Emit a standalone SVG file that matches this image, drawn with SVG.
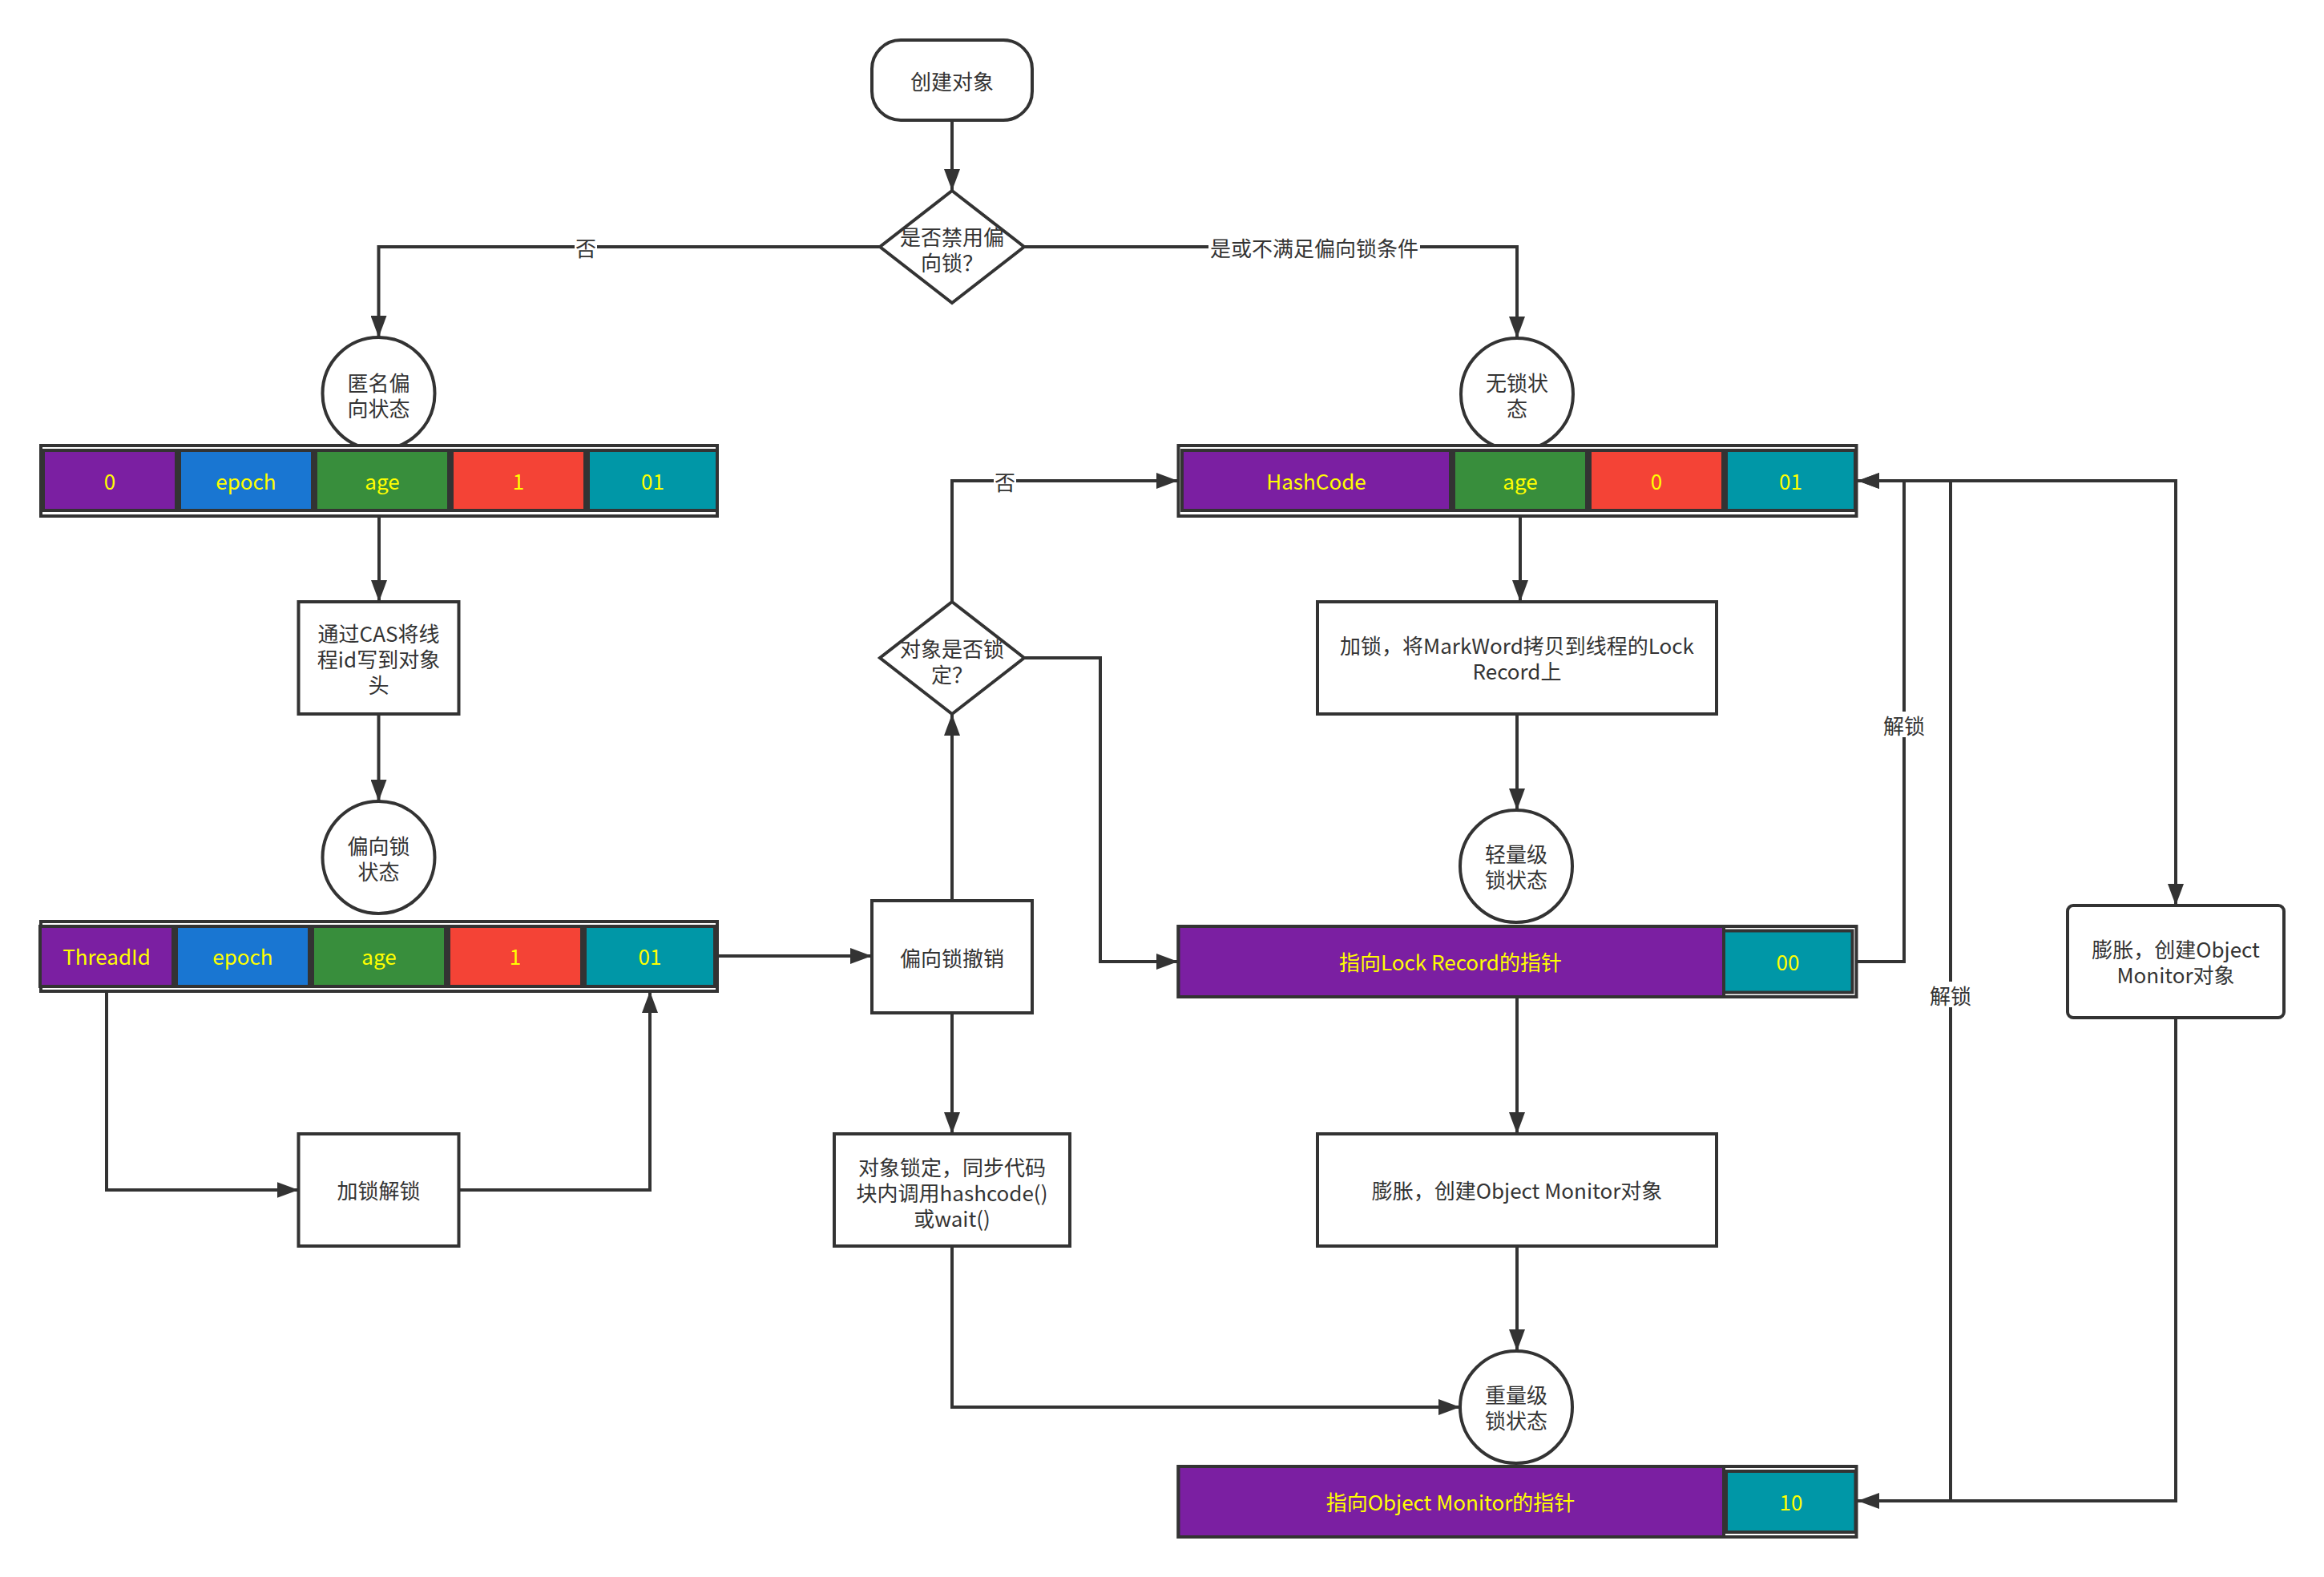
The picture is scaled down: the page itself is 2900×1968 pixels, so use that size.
<svg xmlns="http://www.w3.org/2000/svg" width="2900" height="1968" viewBox="0 0 2900 1968">
<style>
.ln{fill:none;stroke:#333;stroke-width:4;marker-end:url(#ah)}
.nd{fill:#fff;stroke:#333;stroke-width:4}
.bo{fill:#fff;stroke:#333;stroke-width:4}
.c{stroke:#333;stroke-width:4}
.t{font-family:"Noto Sans CJK SC","Microsoft YaHei",sans-serif;font-size:26px;fill:#333;text-anchor:middle;dominant-baseline:central}
.y{fill:#ffff00}
.lb{fill:#fff}
.pu{fill:#7B1FA2}.bl{fill:#1976D2}.gr{fill:#388E3C}.rd{fill:#F44336}.tl{fill:#0097A7}
</style>
<defs>
<marker id="ah" markerUnits="userSpaceOnUse" viewBox="0 0 27 20" markerWidth="27" markerHeight="20" refX="27" refY="10" orient="auto">
<path d="M0,0 L27,10 L0,20 Z" fill="#333"/>
</marker>
</defs>
<rect width="2900" height="1968" fill="#fff"/>
<g id="connectors">
<path class="ln" d="M1188,150 L1188,238"/>
<path class="ln" d="M1098,308 L472.5,308 L472.5,421"/>
<path class="ln" d="M1278,308 L1893,308 L1893,422"/>
<path class="ln" d="M473,644 L473,751"/>
<path class="ln" d="M472.5,891 L472.5,1000"/>
<path class="ln" d="M133,1237 L133,1485 L372.5,1485"/>
<path class="ln" d="M572.5,1485 L811,1485 L811,1237"/>
<path class="ln" d="M895,1193 L1088,1193"/>
<path class="ln" d="M1188,1124 L1188,891"/>
<path class="ln" d="M1188,751 L1188,600 L1470,600"/>
<path class="ln" d="M1278,821 L1373,821 L1373,1200 L1470,1200"/>
<path class="ln" d="M1188,1264 L1188,1415"/>
<path class="ln" d="M1188,1555 L1188,1756 L1822,1756"/>
<path class="ln" d="M1897,644 L1897,751"/>
<path class="ln" d="M1893,891 L1893,1011"/>
<path class="ln" d="M1893,1244 L1893,1415"/>
<path class="ln" d="M1893,1555 L1893,1686"/>
<path class="ln" d="M2317,1200 L2376,1200 L2376,600 L2318,600"/>
<path class="ln" d="M2317,1873 L2434,1873 L2434,600 L2318,600"/>
<path class="ln" d="M2318,600 L2715,600 L2715,1130"/>
<path class="ln" d="M2715,1270 L2715,1873 L2318,1873"/>
<rect class="lb" x="717" y="292" width="28" height="32"/>
<text class="t" x="731" y="308">否</text>
<rect class="lb" x="1508" y="292" width="264" height="32"/>
<text class="t" x="1640" y="308">是或不满足偏向锁条件</text>
<rect class="lb" x="1240" y="584" width="28" height="32"/>
<text class="t" x="1254" y="600">否</text>
<rect class="lb" x="2349" y="888" width="54" height="32"/>
<text class="t" x="2376" y="904">解锁</text>
<rect class="lb" x="2407" y="1225" width="54" height="32"/>
<text class="t" x="2434" y="1241">解锁</text>
</g>
<g id="n_create">
<rect class="nd" x="1088" y="50" width="200" height="100" rx="36" ry="36"/>
<text class="t" x="1188" y="100">创建对象</text>
</g>
<g id="n_dec1">
<polygon class="nd" points="1188,238 1278,308 1188,378 1098,308"/>
<text class="t" x="1188" y="294">是否禁用偏</text>
<text class="t" x="1188" y="326">向锁？</text>
</g>
<g id="n_anon">
<circle class="nd" cx="472.5" cy="491" r="70"/>
<text class="t" x="472.5" y="476">匿名偏</text>
<text class="t" x="472.5" y="508">向状态</text>
</g>
<g id="bar_anon">
<rect class="bo" x="51" y="556" width="844" height="88"/>
<rect class="c pu" x="54" y="562" width="166" height="75"/>
<rect class="c bl" x="224" y="562" width="166" height="75"/>
<rect class="c gr" x="394" y="562" width="166" height="75"/>
<rect class="c rd" x="564" y="562" width="166" height="75"/>
<rect class="c tl" x="734" y="562" width="161" height="75"/>
<text class="t y" x="137" y="599">0</text>
<text class="t y" x="307" y="599">epoch</text>
<text class="t y" x="477" y="599">age</text>
<text class="t y" x="647" y="599">1</text>
<text class="t y" x="814.5" y="599">01</text>
</g>
<g id="n_cas">
<rect class="nd" x="372.5" y="751" width="200" height="140"/>
<text class="t" x="472.5" y="789">通过CAS将线</text>
<text class="t" x="472.5" y="821">程id写到对象</text>
<text class="t" x="472.5" y="853">头</text>
</g>
<g id="n_biased">
<circle class="nd" cx="472.5" cy="1070" r="70"/>
<text class="t" x="472.5" y="1054">偏向锁</text>
<text class="t" x="472.5" y="1086">状态</text>
</g>
<g id="bar_biased">
<rect class="bo" x="51" y="1150" width="844" height="87"/>
<rect class="c pu" x="50" y="1156" width="166" height="75"/>
<rect class="c bl" x="220" y="1156" width="166" height="75"/>
<rect class="c gr" x="390" y="1156" width="166" height="75"/>
<rect class="c rd" x="560" y="1156" width="166" height="75"/>
<rect class="c tl" x="730" y="1156" width="162" height="75"/>
<text class="t y" x="133" y="1192.5">ThreadId</text>
<text class="t y" x="303" y="1192.5">epoch</text>
<text class="t y" x="473" y="1192.5">age</text>
<text class="t y" x="643" y="1192.5">1</text>
<text class="t y" x="811" y="1192.5">01</text>
</g>
<g id="n_lockunlock">
<rect class="nd" x="372.5" y="1415" width="200" height="140"/>
<text class="t" x="472.5" y="1484">加锁解锁</text>
</g>
<g id="n_revoke">
<rect class="nd" x="1088" y="1124" width="200" height="140"/>
<text class="t" x="1188" y="1194">偏向锁撤销</text>
</g>
<g id="n_dec2">
<polygon class="nd" points="1188,751 1278,821 1188,891 1098,821"/>
<text class="t" x="1188" y="808">对象是否锁</text>
<text class="t" x="1188" y="840">定？</text>
</g>
<g id="n_locked">
<rect class="nd" x="1041" y="1415" width="294" height="140"/>
<text class="t" x="1188" y="1455">对象锁定，同步代码</text>
<text class="t" x="1188" y="1487">块内调用hashcode()</text>
<text class="t" x="1188" y="1519">或wait()</text>
</g>
<g id="n_nolock">
<circle class="nd" cx="1893" cy="492" r="70"/>
<text class="t" x="1893" y="476">无锁状</text>
<text class="t" x="1893" y="508">态</text>
</g>
<g id="bar_nolock">
<rect class="bo" x="1470.5" y="556" width="846" height="88"/>
<rect class="c pu" x="1475" y="562" width="335" height="75"/>
<rect class="c gr" x="1814" y="562" width="166" height="75"/>
<rect class="c rd" x="1984" y="562" width="166" height="75"/>
<rect class="c tl" x="2154" y="562" width="161" height="75"/>
<text class="t y" x="1642.5" y="599">HashCode</text>
<text class="t y" x="1897" y="599">age</text>
<text class="t y" x="2067" y="599">0</text>
<text class="t y" x="2234.5" y="599">01</text>
</g>
<g id="n_copy">
<rect class="nd" x="1644" y="751" width="498" height="140"/>
<text class="t" x="1893" y="804">加锁，将MarkWord拷贝到线程的Lock</text>
<text class="t" x="1893" y="836">Record上</text>
</g>
<g id="n_light">
<circle class="nd" cx="1892" cy="1081" r="70"/>
<text class="t" x="1892" y="1064">轻量级</text>
<text class="t" x="1892" y="1096">锁状态</text>
</g>
<g id="bar_light">
<rect class="bo" x="1470.5" y="1156" width="846" height="88"/>
<rect class="c pu" x="1470.5" y="1156" width="680.5" height="88"/>
<rect class="c tl" x="2151" y="1161.5" width="160.5" height="77"/>
<text class="t y" x="1810" y="1199">指向Lock Record的指针</text>
<text class="t y" x="2231" y="1199">00</text>
</g>
<g id="n_inflate1">
<rect class="nd" x="1644" y="1415" width="498" height="140"/>
<text class="t" x="1893" y="1484">膨胀，创建Object Monitor对象</text>
</g>
<g id="n_heavy">
<circle class="nd" cx="1892" cy="1756" r="70"/>
<text class="t" x="1892" y="1739">重量级</text>
<text class="t" x="1892" y="1771">锁状态</text>
</g>
<g id="bar_heavy">
<rect class="bo" x="1470.5" y="1830" width="846" height="88"/>
<rect class="c pu" x="1470.5" y="1830" width="680.5" height="88"/>
<rect class="c tl" x="2154" y="1836" width="161.5" height="76"/>
<text class="t y" x="1810" y="1873">指向Object Monitor的指针</text>
<text class="t y" x="2235" y="1873">10</text>
</g>
<g id="n_inflate2">
<rect class="nd" x="2580" y="1130" width="270" height="140" rx="7" ry="7"/>
<text class="t" x="2715" y="1183">膨胀，创建Object</text>
<text class="t" x="2715" y="1215">Monitor对象</text>
</g>
</svg>
